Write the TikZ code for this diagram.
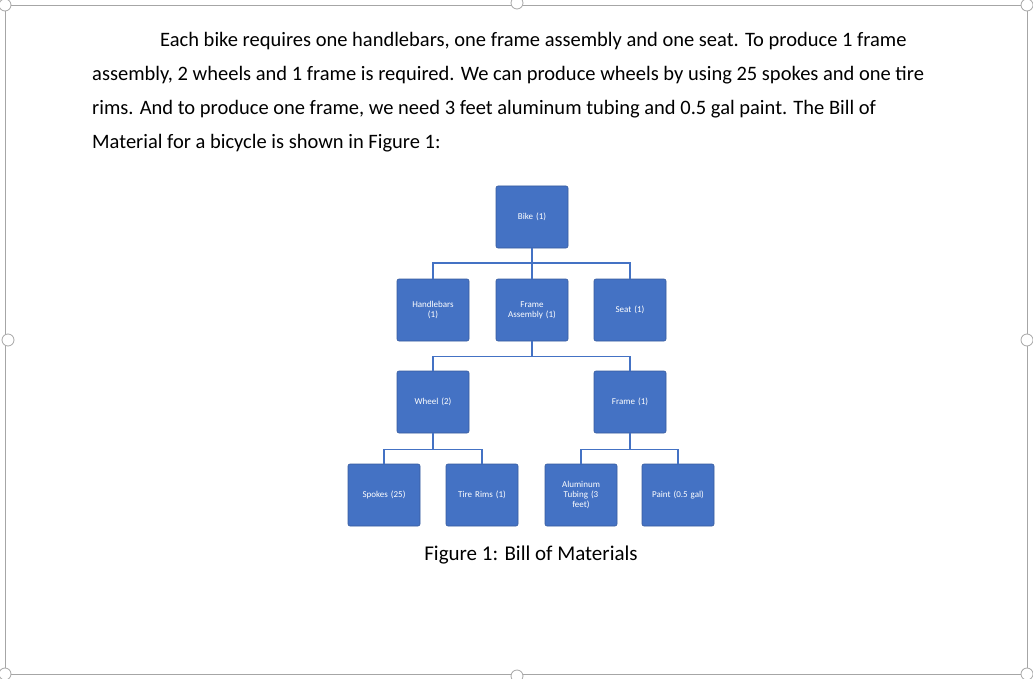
\documentclass[tikz,border=0pt]{standalone}
\usepackage{fontspec}
\setmainfont{Carlito}
\definecolor{bom}{HTML}{4472C4}
\definecolor{frm}{HTML}{A6A6A6}
\begin{document}
\begin{tikzpicture}[x=1pt,y=-1pt,
  bx/.style={draw=bom!80!black,line width=0.6pt,fill=bom,rounded corners=2pt,minimum width=72pt,minimum height=62pt,text=white,font=\fontsize{9}{10}\selectfont,align=center,inner sep=1pt,text width=68pt},
  cn/.style={draw=bom,line width=1.6pt},
  para/.style={anchor=base west,inner sep=0pt,font=\fontsize{20.5}{24}\selectfont},
  hd/.style={draw=frm,fill=white,line width=0.8pt}]
\useasboundingbox (0,0) rectangle (1033,679);
\draw[frm,line width=0.8pt] (5,5) rectangle (1027,674);
\foreach \p in {(5,5),(517,3),(1027,5),(8,340),(1027,340),(5,674),(517,676),(1027,674)}
  \draw[hd] \p circle (6);
\node[para] (l1) at (160,47) {Each bike requires one handlebars, one frame assembly and one seat. To produce 1 frame};
\node[para] (l2) at (92,81) {assembly, 2 wheels and 1 frame is required. We can produce wheels by using 25 spokes and one tire};
\node[para] (l3) at (92,115) {rims. And to produce one frame, we need 3 feet aluminum tubing and 0.5 gal paint. The Bill of};
\node[para] (l4) at (92,149) {Material for a bicycle is shown in Figure 1:};
\node[bx] (bike) at (532,217) {Bike (1)};
\node[bx] (hb) at (433,310) {Handlebars\\(1)};
\node[bx] (fa) at (532,310) {Frame\\Assembly (1)};
\node[bx] (seat) at (630,310) {Seat (1)};
\node[bx] (wh) at (433,402) {Wheel (2)};
\node[bx] (fr) at (630,402) {Frame (1)};
\node[bx] (sp) at (384,495) {Spokes (25)};
\node[bx] (tr) at (482,495) {Tire Rims (1)};
\node[bx] (al) at (581,495) {Aluminum\\Tubing (3\\feet)};
\node[bx] (pt) at (678,495) {Paint (0.5 gal)};
\draw[cn] (bike.south) -- (fa.north);
\draw[cn] (hb.north) -- ++(0,-16) -| (seat.north);
\draw[cn] (fa.south) -- ++(0,15) coordinate (b2);
\draw[cn] (wh.north) |- (b2) -| (fr.north);
\draw[cn] (wh.south) -- ++(0,16) coordinate (b3);
\draw[cn] (sp.north) |- (b3) -| (tr.north);
\draw[cn] (fr.south) -- ++(0,16) coordinate (b4);
\draw[cn] (al.north) |- (b4) -| (pt.north);
\node[font=\fontsize{21}{24}\selectfont,anchor=base] (cap) at (531,560) {Figure 1: Bill of Materials};
\end{tikzpicture}
\end{document}
